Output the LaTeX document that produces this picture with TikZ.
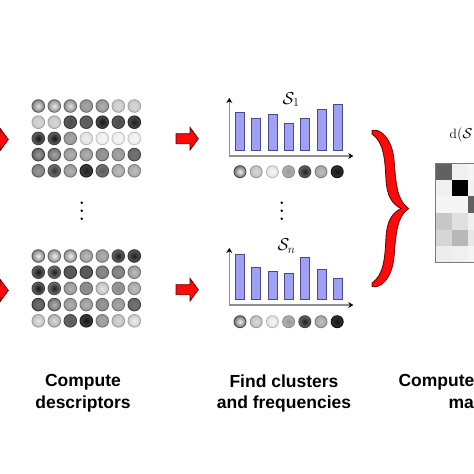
\documentclass[tikz,border=0pt]{standalone}
\usepackage{fontspec}
\setsansfont{Liberation Sans}
\usepackage{tikz}
\usetikzlibrary{arrows.meta,positioning}
\definecolor{HistBlue}{HTML}{A0A0F4}
\definecolor{HistEdge}{HTML}{4A4A8A}
\definecolor{BlockRed}{HTML}{FF0A0A}
\definecolor{BlockEdge}{HTML}{5C0000}
\definecolor{AxisGray}{HTML}{8E8E8E}
\definecolor{MatEdge}{HTML}{7A7A7A}

% inner/outer grey of every descriptor disc
\def\descTop{{12/50,8/45,12/45,35/42,30/42,15/22,15/22},%
{15/22,15/22,70/65,65/62,92/70,70/65,88/70},%
{92/60,92/60,35/40,6/12,3/8,3/8,3/8},%
{40/60,35/55,30/40,30/40,40/45,35/40,55/58},%
{40/50,80/55,30/40,88/75,65/55,25/35,25/35}}
\def\descBot{{6/50,6/45,6/45,25/40,30/40,88/60,88/65},%
{92/60,88/55,65/65,65/65,45/50,45/50,25/40},%
{92/60,88/55,30/40,45/45,10/25,45/40,25/35},%
{55/65,30/55,30/40,30/40,40/45,35/40,55/60},%
{10/25,15/30,65/60,92/75,35/40,15/25,6/20}}
\def\clusterRow{6/55,15/25,3/12,40/30,88/60,25/35,92/80}
\def\distRows{{62,6,4},{6,100,5},{4,4,62},{22,12,6},{16,28,9},{7,6,4}}

\tikzset{
  disc/.style={line width=0.9pt},
  bar/.style={fill=HistBlue,draw=HistEdge,line width=0.8pt},
  axis/.style={AxisGray,line width=1.6pt,-{Stealth[black,length=5pt,width=6pt]}},
  blockarrow/.style={fill=BlockRed,draw=BlockEdge,line width=0.8pt,line join=miter},
  steplabel/.style={font=\fontsize{17.5}{21.7}\selectfont\sffamily\bfseries,align=center,inner sep=0pt},
  histlabel/.style={font=\fontsize{17}{20}\selectfont,inner sep=0pt}
}

\begin{document}
\begin{tikzpicture}[x=1pt,y=-1pt,>=Latex]
  \useasboundingbox (0,0) rectangle (474,474);
  \begin{scope}
    \clip (0,0) rectangle (474,474);

    % block arrows
    \foreach \tx/\cy in {8.3/139.5,8.3/290.5,198.3/138.7,198.3/289.7}
      \draw[blockarrow] (\tx,\cy) -- ++(-8.3,-11.3) -- ++(0,6.3) -- ++(-14,0) -- ++(0,10)
        -- ++(14,0) -- ++(0,6.3) -- cycle;

    % descriptor grids
    \foreach \row [count=\r] in \descTop {
      \foreach \ci/\co [count=\c] in \row {
        \pgfmathtruncatemacro\rim{min(\co+15,100)}
        \shadedraw[disc,inner color=black!\ci,outer color=black!\co,draw=black!\rim]
          ({38.3+16*(\c-1)},{106+16.2*(\r-1)}) circle (6.3);
      }
    }
    \foreach \row [count=\r] in \descBot {
      \foreach \ci/\co [count=\c] in \row {
        \pgfmathtruncatemacro\rim{min(\co+15,100)}
        \shadedraw[disc,inner color=black!\ci,outer color=black!\co,draw=black!\rim]
          ({38.3+16*(\c-1)},{256+16.2*(\r-1)}) circle (6.3);
      }
    }
    \foreach \dx in {81.7,281.7}
      \foreach \dy in {202.7,210.7,218.7}
        \fill[black] (\dx,\dy) circle (1.4);

    % histograms
    \coordinate (histOneO) at (229.3,156);
    \coordinate (histEnO) at (229.3,305);
    \foreach \h [count=\c] in {38,32,35.3,26.3,31.7,40.7,46}
      \draw[bar] ({240+16.33*(\c-1)-4.5},150) rectangle ++(9,-\h);
    \foreach \h [count=\c] in {45,32.3,28.3,26,42.3,30,20.6}
      \draw[bar] ({240+16.33*(\c-1)-4.5},299.3) rectangle ++(9,-\h);
    \draw[axis] (histOneO) -- ++(0,-58);
    \draw[axis] (histOneO) -- ++(124,0);
    \draw[axis] (histEnO) -- ++(0,-57);
    \draw[axis] (histEnO) -- ++(124,0);
    \node[histlabel] (lblSone) at (291,99.5) {$\mathcal{S}_1$};
    \node[histlabel] (lblSn) at (286.5,246) {$\mathcal{S}_n$};
    \foreach \yy in {171.7,321.7} {
      \foreach \ci/\co [count=\c] in \clusterRow {
        \pgfmathtruncatemacro\rim{min(\co+15,100)}
        \shadedraw[disc,inner color=black!\ci,outer color=black!\co,draw=black!\rim]
          ({240+16.2*(\c-1)},\yy) circle (6);
      }
    }

    % brace
    \draw[fill=BlockRed,draw=BlockEdge,line width=0.8pt]
      (372,130.5) .. controls (380,128) and (392,138) .. (394,160)
      .. controls (396,185) and (397,200) .. (408.5,208.5)
      .. controls (397,217) and (396,232) .. (394,257)
      .. controls (392,279) and (380,289) .. (372,286.5)
      -- (372,283)
      .. controls (384,275) and (385,257) .. (386,237)
      .. controls (387,221) and (392,213) .. (401,208.5)
      .. controls (392,204) and (387,196) .. (386,180)
      .. controls (385,160) and (384,142) .. (372,134) -- cycle;

    % distance matrix
    \foreach \row [count=\r] in \distRows
      \foreach \g [count=\c] in \row
        \fill[black!\g] ({435+16.57*(\c-1)},{163.3+16.57*(\r-1)}) rectangle ++(16.57,16.57);
    \draw[MatEdge,line width=0.9pt] (435,163.3) rectangle (534.4,262.7);
    \node[anchor=base west,inner sep=0pt,font=\fontsize{13.5}{16}\selectfont] (lblDist) at (449.5,138.5)
      {$\mathrm{d}(\mathcal{S}$};

    % step captions
    \node[steplabel,anchor=north] (lblDesc) at (83,374) {Compute\\descriptors};
    \node[steplabel,anchor=north] (lblClust) at (284,374.2) {Find clusters\\and frequencies};
    \node[steplabel,anchor=base west] (lblMatA) at (398.3,386.7) {Compute};
    \node[steplabel,anchor=base west] (lblMatB) at (448.3,408.3) {ma};
  \end{scope}
\end{tikzpicture}
\end{document}
